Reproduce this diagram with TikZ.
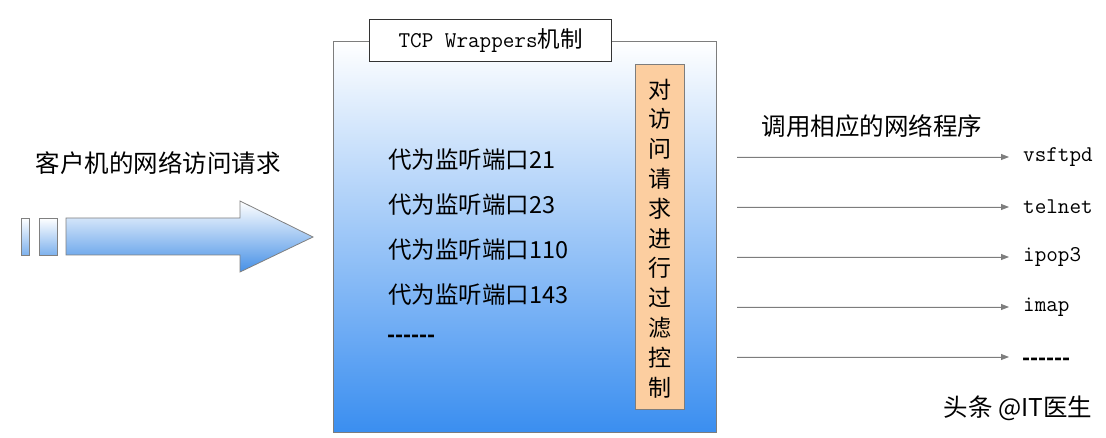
\documentclass[tikz,border=0pt]{standalone}
\usepackage{fontspec}
\setmainfont{Noto Sans CJK SC}
\usetikzlibrary{calc}
\usetikzlibrary{arrows.meta,positioning}

\definecolor{boxblue}{RGB}{58,142,240}
\definecolor{midblue}{RGB}{205,226,250}
\definecolor{arrowblue}{RGB}{70,144,230}
\definecolor{filterorange}{RGB}{252,206,160}
\definecolor{linegray}{RGB}{125,125,125}

\newcommand{\moredots}{{-}{-}{-}{-}{-}{-}}

\begin{document}
\begin{tikzpicture}[x=1pt,y=-1pt,
  cnfont/.style={font=\fontsize{24.5}{26}\selectfont},
  portfont/.style={font=\fontsize{23.5}{25}\selectfont},
  ttfont/.style={font=\fontsize{22.5}{24}\selectfont\ttfamily},
  dotfont/.style={font=\fontsize{21}{22}\selectfont\bfseries},
  call/.style={-{Triangle[length=8pt,width=6pt]},line width=0.8pt,draw=linegray,fill=linegray}]

\useasboundingbox (0,0) rectangle (1106,438);
\coordinate (LEFTCORNER) at (0,0);
\node at (LEFTCORNER) (input) {};

%%%%%%%%%%%%%%%%%%%%%

%draw client request
\node[cnfont,anchor=west] at ($(LEFTCORNER)+(32,163)$) (REQUEST) {客户机的网络访问请求};

\shadedraw[top color=white,bottom color=arrowblue!70,draw=gray,line width=0.8pt] ($(LEFTCORNER)+(21,218)$) rectangle ($(LEFTCORNER)+(29,255)$);
\shadedraw[top color=white,bottom color=arrowblue!70,draw=gray,line width=0.8pt] ($(LEFTCORNER)+(39,218)$) rectangle ($(LEFTCORNER)+(57,255)$);
\shadedraw[top color=white,bottom color=arrowblue,draw=gray,line width=0.8pt] ($(LEFTCORNER)+(66,218)$) -- ++(174,0) -- ++(0,-17) -- ($(LEFTCORNER)+(313,237)$) -- ($(LEFTCORNER)+(240,272)$) -- ++(0,-17) -- ++(-174,0) -- cycle;

%%%%%%%

%draw tcp wrappers box
\node[rectangle,anchor=north west,minimum width=383pt,minimum height=391pt,top color=white,middle color=midblue,bottom color=boxblue,draw=linegray,line width=0.8pt] at ($(LEFTCORNER)+(333,41)$) (TCPBOX) {};

\node[rectangle,anchor=north west,minimum width=242pt,minimum height=42pt,fill=white,draw=black!80,line width=1.2pt,inner sep=0pt] at ($(LEFTCORNER)+(369,19)$) (TITLE) {\fontsize{22.5}{24}\selectfont\ttfamily TCP Wrappers\rmfamily 机制};

%filter column
\node[rectangle,anchor=north west,minimum width=49pt,minimum height=345pt,fill=filterorange,draw=linegray,line width=0.8pt,inner sep=0pt] at ($(LEFTCORNER)+(635,64)$) (FILTER) {};
\node[align=center,font=\fontsize{23}{29.8}\selectfont] at ($(FILTER)+(0,1.5)$) (FILTERTEXT) {对\\访\\问\\请\\求\\进\\行\\过\\滤\\控\\制};

%ports
\node[portfont,anchor=west,inner sep=0pt] at ($(LEFTCORNER)+(388,160)$) (PORT1) {代为监听端口21};
\node[portfont,anchor=west,inner sep=0pt] at ($(LEFTCORNER)+(388,205)$) (PORT2) {代为监听端口23};
\node[portfont,anchor=west,inner sep=0pt] at ($(LEFTCORNER)+(388,250)$) (PORT3) {代为监听端口110};
\node[portfont,anchor=west,inner sep=0pt] at ($(LEFTCORNER)+(388,295)$) (PORT4) {代为监听端口143};
\node[dotfont,anchor=west,inner sep=0pt] at ($(LEFTCORNER)+(387,339)$) (PORTMORE) {\moredots};

%%%%%%%%%%%%%%%%%%%

%draw programs
\node[cnfont,anchor=west] at ($(LEFTCORNER)+(758,126)$) (PROGRAMS) {调用相应的网络程序};

\node[ttfont,anchor=west,inner sep=0pt] at ($(LEFTCORNER)+(1023,157)$) (VSFTPD) {vsftpd};
\node[ttfont,anchor=west,inner sep=0pt] at ($(LEFTCORNER)+(1023,207)$) (TELNET) {telnet};
\node[ttfont,anchor=west,inner sep=0pt] at ($(LEFTCORNER)+(1023,257)$) (IPOP3) {ipop3};
\node[ttfont,anchor=west,inner sep=0pt] at ($(LEFTCORNER)+(1023,307)$) (IMAP) {imap};
\node[dotfont,anchor=west,inner sep=0pt] at ($(LEFTCORNER)+(1022,362)$) (PROGMORE) {\moredots};

\coordinate (CALL1) at ($(LEFTCORNER)+(737,157)$);
\coordinate (CALL2) at ($(LEFTCORNER)+(737,207)$);
\coordinate (CALL3) at ($(LEFTCORNER)+(737,257)$);
\coordinate (CALL4) at ($(LEFTCORNER)+(737,307)$);
\coordinate (CALL5) at ($(LEFTCORNER)+(737,357)$);

%draw arrows to programs
\draw[call] (CALL1) -- ($(VSFTPD.west)+(-14,0)$);
\draw[call] (CALL2) -- ($(TELNET.west)+(-14,0)$);
\draw[call] (CALL3) -- ($(IPOP3.west)+(-14,0)$);
\draw[call] (CALL4) -- ($(IMAP.west)+(-14,0)$);
\draw[call] (CALL5) -- ($(PROGMORE.west)+(-13,-5)$);

%watermark
\node[cnfont,anchor=east] at ($(LEFTCORNER)+(1096,408)$) (MARK) {头条 @IT医生};

%%%%%%%%%%%%%%%%%%%%%%

\end{tikzpicture}
\end{document}
